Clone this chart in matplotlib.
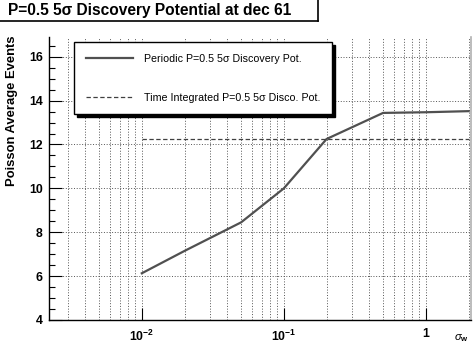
import matplotlib
matplotlib.use("Agg")
import matplotlib.pyplot as plt
from matplotlib.lines import Line2D
from matplotlib.ticker import FixedLocator, NullFormatter

plt.rcParams["font.family"] = ["Liberation Sans", "DejaVu Sans"]
plt.rcParams["mathtext.fontset"] = "custom"
plt.rcParams["mathtext.rm"] = "Liberation Sans:bold"
plt.rcParams["mathtext.bf"] = "Liberation Sans:bold"
plt.rcParams["mathtext.it"] = "Liberation Sans:italic"

# periodic 5 sigma discovery potential vs sigma_w
sigma_w = [0.01, 0.02, 0.05, 0.1, 0.2, 0.5, 1.0, 2.0]
periodic = [6.13, 7.15, 8.45, 10.0, 12.25, 13.44, 13.47, 13.52]
# time integrated reference level
ti_x = [0.01, 2.0]
ti_level = [12.25, 12.25]

labels = ["Periodic P=0.5 5\u03c3 Discovery Pot.",
          "Time Integrated P=0.5 5\u03c3 Disco. Pot."]
title = "P=0.5 5\u03c3 Discovery Potential at dec 61"
y_ticks = [4, 6, 8, 10, 12, 14, 16]
x_major = [0.01, 0.1, 1.0]
x_major_labels = [r"$\mathbf{10^{-2}}$", r"$\mathbf{10^{-1}}$", "1"]

W, H = 474, 348
fig = plt.figure(figsize=(W / 100, H / 100), dpi=100)
ax = fig.add_axes([49 / W, 1 - 320 / H, (471 - 49) / W, (320 - 37) / H])

ax.set_xscale("log")
ax.set_xlim(0.00222, 2.08)
ax.set_ylim(4, 16.9)

grid_kw = dict(color="#555555", linestyle=(0, (1, 1.8)), linewidth=0.7, zorder=0)
minor_x = [m * 10.0 ** e for e in (-3, -2, -1, 0) for m in range(2, 10)]
minor_x = [v for v in minor_x if 0.00222 < v < 2.08]
for v in minor_x + x_major:
    ax.axvline(v, **grid_kw)
for v in y_ticks:
    ax.axhline(v, **grid_kw)

ax.plot(sigma_w, periodic, color="#505050", linewidth=1.6, label=labels[0], zorder=3)
ax.plot(ti_x, ti_level, color="#404040", linewidth=0.9, linestyle=(0, (3.5, 2)),
        label=labels[1], zorder=3)

ax.xaxis.set_major_locator(FixedLocator(x_major))
ax.xaxis.set_minor_locator(FixedLocator(minor_x))
ax.xaxis.set_minor_formatter(NullFormatter())
ax.set_xticklabels(x_major_labels)
ax.set_yticks(y_ticks)
ax.yaxis.set_minor_locator(FixedLocator([4 + 0.5 * i for i in range(26)]))
ax.tick_params(axis="both", which="both", direction="in", top=False, right=False,
               colors="black")
ax.tick_params(axis="y", which="major", length=9.5, width=0.8, pad=4.5,
               labelsize=8.8)
ax.tick_params(axis="y", which="minor", length=4.5, width=0.8)
ax.tick_params(axis="x", which="major", length=8.5, width=0.8, pad=6,
               labelsize=8.8)
ax.tick_params(axis="x", which="minor", length=0)
for lab in ax.get_yticklabels() + ax.get_xticklabels():
    lab.set_fontweight("bold")

ax.spines["top"].set_visible(False)
ax.spines["right"].set_color("#b0b0b0")
ax.spines["right"].set_linewidth(1.2)
ax.spines["left"].set_linewidth(1.0)
ax.spines["bottom"].set_linewidth(1.0)

leg = ax.legend(loc="upper left", bbox_to_anchor=(74 / W, 1 - 42 / H),
                bbox_transform=fig.transFigure, borderaxespad=0, fontsize=7.7,
                handlelength=4.4, handletextpad=1.0, labelspacing=2.7,
                borderpad=1.1, fancybox=False, framealpha=1,
                shadow={"color": "black", "alpha": 1})
leg.get_frame().set_edgecolor("black")
leg.get_frame().set_linewidth(1.0)
leg.set_zorder(5)

fig.text(12 / W, 1 - 111 / H, "Poisson Average Events", rotation=90,
         ha="center", va="center", fontsize=9.4, fontweight="bold")
fig.text(469 / W, 1 - 338 / H, r"$\sigma_{\mathbf{w}}$", ha="right",
         va="center", fontsize=8)

# title box
fig.text(8 / W, 1 - 11 / H, title, ha="left", va="center", fontsize=11.2,
         fontweight="bold")
fig.add_artist(Line2D([0, 318 / W], [1 - 21 / H, 1 - 21 / H], color="black",
                      linewidth=1.2, transform=fig.transFigure))
fig.add_artist(Line2D([318 / W, 318 / W], [1, 1 - 21 / H], color="black",
                      linewidth=1.2, transform=fig.transFigure))

fig.savefig("out.png", dpi=100)
